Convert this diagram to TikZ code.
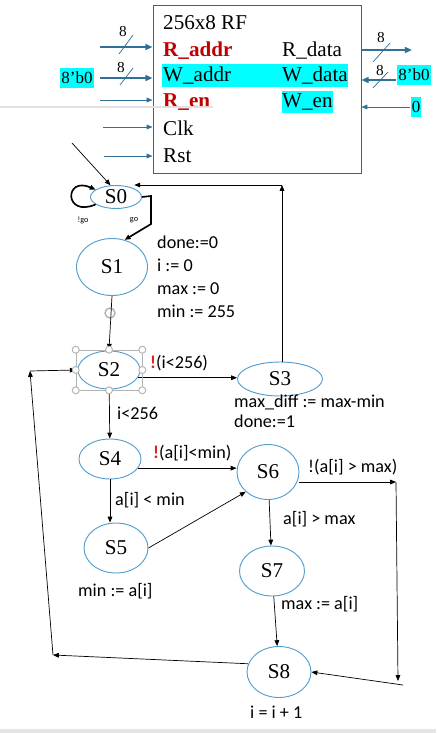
\documentclass[tikz,border=0pt]{standalone}
\usepackage{fontspec}
\setmainfont{Liberation Serif}
\newfontfamily\condfont{Carlito}
\usetikzlibrary{shapes.geometric, arrows.meta, positioning}
\definecolor{PortBlue}{RGB}{46,112,152}
\definecolor{StateBlue}{RGB}{84,158,206}
\definecolor{PortRed}{RGB}{192,0,0}
\definecolor{BangRed}{RGB}{225,30,30}
\definecolor{HiCyan}{RGB}{0,255,255}
\definecolor{BoxGray}{RGB}{90,90,90}
\newcommand{\bang}{{\color{BangRed}\textbf{!}}}

\begin{document}
\begin{tikzpicture}[x=0.03cm, y=-0.03cm,
  state/.style={ellipse, draw=StateBlue, line width=0.8pt, inner sep=0pt,
                font=\fontsize{18}{20}\selectfont},
  port/.style={anchor=base west, inner sep=0pt, font=\fontsize{18}{20}\selectfont},
  rport/.style={port, font=\fontsize{18}{20}\selectfont\bfseries, text=PortRed},
  cond/.style={anchor=west, inner sep=0pt, align=left,
               font=\condfont\fontsize{15.5}{17}\selectfont},
  golabel/.style={inner sep=0pt, font=\condfont\fontsize{7}{8}\selectfont},
  buswidth/.style={inner sep=0pt, font=\fontsize{13}{14}\selectfont},
  constval/.style={fill=HiCyan, inner sep=1pt, minimum height=0.6cm,
                   font=\fontsize{14.5}{15}\selectfont},
  arr/.style={-{Triangle[length=5pt, width=4pt]}, line width=0.6pt},
  loopy/.style={arr, line width=1.4pt},
  bus/.style={-{Triangle[length=6pt, width=5pt]}, PortBlue, line width=1.8pt},
  ctl/.style={-{Triangle[length=5pt, width=4pt]}, PortBlue, line width=0.8pt},
  slash/.style={PortBlue, line width=0.6pt},
  handle/.style={circle, draw=gray!60, fill=white, line width=0.8pt,
                 inner sep=0pt, minimum size=0.21cm},
]
\useasboundingbox (0,0) rectangle (436,733);

% register file
\node[draw=BoxGray, line width=0.8pt, minimum width=6.24cm, minimum height=5.04cm] (rf) at (257,89) {};
\fill[HiCyan] (162,64) rectangle (348,87);
\fill[HiCyan] (282,91) rectangle (333,113);
\node[port] (title) at (163,30) {256x8 RF};
\node[rport] (raddr) at (163,57) {R\_addr};
\node[port] (rdata) at (282,57) {R\_data};
\node[port] (waddr) at (163,82) {W\_addr};
\node[port] (wdata) at (282,82) {W\_data};
\node[rport] (ren) at (163,108) {R\_en};
\node[port] (wen) at (282,108) {W\_en};
\node[port] (clk) at (163,135) {Clk};
\node[port] (rst) at (163,162) {Rst};

\node[constval] (wa-zero) at (77,78) {8’b0};
\node[constval] (wd-zero) at (414,75) {8’b0};
\node[constval, minimum width=0.3cm] (we-zero) at (416,107) {0};

\coordinate (ra-in) at (100,47);
\coordinate (wa-in) at (100,78);
\coordinate (re-in) at (100,100);
\coordinate (clk-in) at (103,127);
\coordinate (rst-in) at (104,156);
\coordinate (rd-out) at (412,50);
\coordinate (wd-in) at (396,80);

\draw[bus] (ra-in) -- (ra-in -| rf.west);
\draw[bus] (wa-in) -- (wa-in -| rf.west);
\draw[ctl] (re-in) -- (re-in -| rf.west);
\draw[ctl] (clk-in) -- (clk-in -| rf.west);
\draw[ctl] (rst-in) -- (rst-in -| rf.west);
\draw[bus] (rf.east |- rd-out) -- (rd-out);
\draw[bus] (wd-in) -- (wd-in -| rf.east);
\draw[ctl] (we-zero.west) -- (we-zero.west -| rf.east);

% bus widths
\draw[slash] (119,54) -- (133,35);
\node[buswidth] (ra-w) at (123,32) {8};
\draw[slash] (120,85) -- (133,68);
\node[buswidth] (wa-w) at (121,68) {8};
\draw[slash] (373,62) -- (390,43);
\node[buswidth] (rd-w) at (381,38) {8};
\draw[slash] (373,88) -- (388,72);
\node[buswidth] (wd-w) at (380,71) {8};

\draw[draw=gray!55, double=gray!15, double distance=1pt, line width=0.5pt, opacity=0.75] (0,107) -- (213,107);

% states
\node[state, minimum width=1.53cm, minimum height=0.69cm] (s0) at (116,197) {S0};
\node[state, minimum width=2.13cm, minimum height=1.71cm] (s1) at (112,267) {S1};
\node[state, minimum width=1.86cm, minimum height=1.14cm] (s2) at (109,370) {S2};
\node[state, minimum width=2.55cm, minimum height=1.02cm] (s3) at (280,379) {S3};
\node[state, minimum width=1.86cm, minimum height=1.20cm] (s4) at (110,459) {S4};
\node[state, minimum width=1.92cm, minimum height=1.50cm] (s5) at (116,548) {S5};
\node[state, minimum width=1.86cm, minimum height=1.65cm] (s6) at (268,472) {S6};
\node[state, minimum width=1.95cm, minimum height=1.50cm] (s7) at (272,571) {S7};
\node[state, minimum width=1.92cm, minimum height=1.53cm] (s8) at (279,672) {S8};

% state outputs and conditions
\node[cond, anchor=north west, font=\condfont\fontsize{15.5}{19.6}\selectfont] (c-init) at (157,236)
  {done:=0\\i := 0\\max := 0\\min := 255};
\node[cond, anchor=north west] (c-fin) at (234,395) {max\_diff := max-min\\done:=1};
\node[golabel] (nogo) at (83,220) {!go};
\node[golabel] (go) at (134,220) {go};
\node[cond] (c-i-ge) at (150,363) {\bang(i<256)};
\node[cond] (c-i-lt) at (117,413) {i<256};
\node[cond] (c-min-no) at (153,453) {\bang(a[i]<min)};
\node[cond] (c-max-no) at (308,467) {!(a[i] > max)};
\node[cond] (c-min-yes) at (115,500) {a[i] < min};
\node[cond] (c-max-yes) at (283,519) {a[i] > max};
\node[cond] (a-min) at (78,591) {min := a[i]};
\node[cond] (a-max) at (281,604) {max := a[i]};
\node[cond] (a-inc) at (250,712) {i = i + 1};

% transitions
\coordinate (s0-in) at (72,143);
\coordinate (g1) at (151,196);
\coordinate (g2) at (151,224);
\coordinate (ret) at (282,185);
\coordinate (r1) at (396,482);
\coordinate (r2) at (398,681);
\coordinate (r3) at (403,685);
\coordinate (back) at (53,655);
\coordinate (up) at (30,371);

\draw[arr] (s0-in) -- (s0.115);
\draw[loopy] (s0.200) .. controls (64,218) and (64,176) .. (s0.160);
\draw[loopy] (s0.east) -- (g1) -- (g2) -- (s1.65);
\draw[arr] (s3.north -| ret) -- (ret);
\draw[arr] (ret) -- (ret -| s0.north east);
\draw[arr] (s2.-15) -- (s2.-15 -| s3.west);
\draw[arr] (s2) -- (s4);
\draw[arr] (s4.-18) -- (s4.-18 -| s6.west);
\draw[arr] (s4) -- (s4 |- s5.north);
\draw[arr] (s5.east) -- (s6.south west);
\draw[arr] (s6) -- (s7);
\draw[arr] (s7) -- (s8);
\draw[arr] (s6.east |- r1) -- (r1);
\draw[arr] (r1) -- (r2);
\draw[arr] (r3) -- (s8.east);
\draw[arr] (s8.165) -- (back);
\draw[arr] (back) -- (up);

% selection frame on S2
\node[draw=gray!60, line width=0.5pt, minimum width=1.98cm, minimum height=1.2cm] (sel) at (109,370) {};
\node[circle, draw=gray!60, line width=1.2pt, minimum size=0.3cm, inner sep=0pt] (rot) at (110,313) {};
\draw[arr] (s1.south) -- (sel.north);
\draw[arr] (up) -- (sel.west);
\node[handle] (h-nw) at (sel.north west) {};
\node[handle] (h-n) at (sel.north) {};
\node[handle] (h-ne) at (sel.north east) {};
\node[handle] (h-e) at (sel.east) {};
\node[handle] (h-se) at (sel.south east) {};
\node[handle] (h-s) at (sel.south) {};
\node[handle] (h-sw) at (sel.south west) {};
\node[handle] (h-w) at (sel.west) {};

\fill[gray!20] (0,729) rectangle (436,733);
\end{tikzpicture}
\end{document}
